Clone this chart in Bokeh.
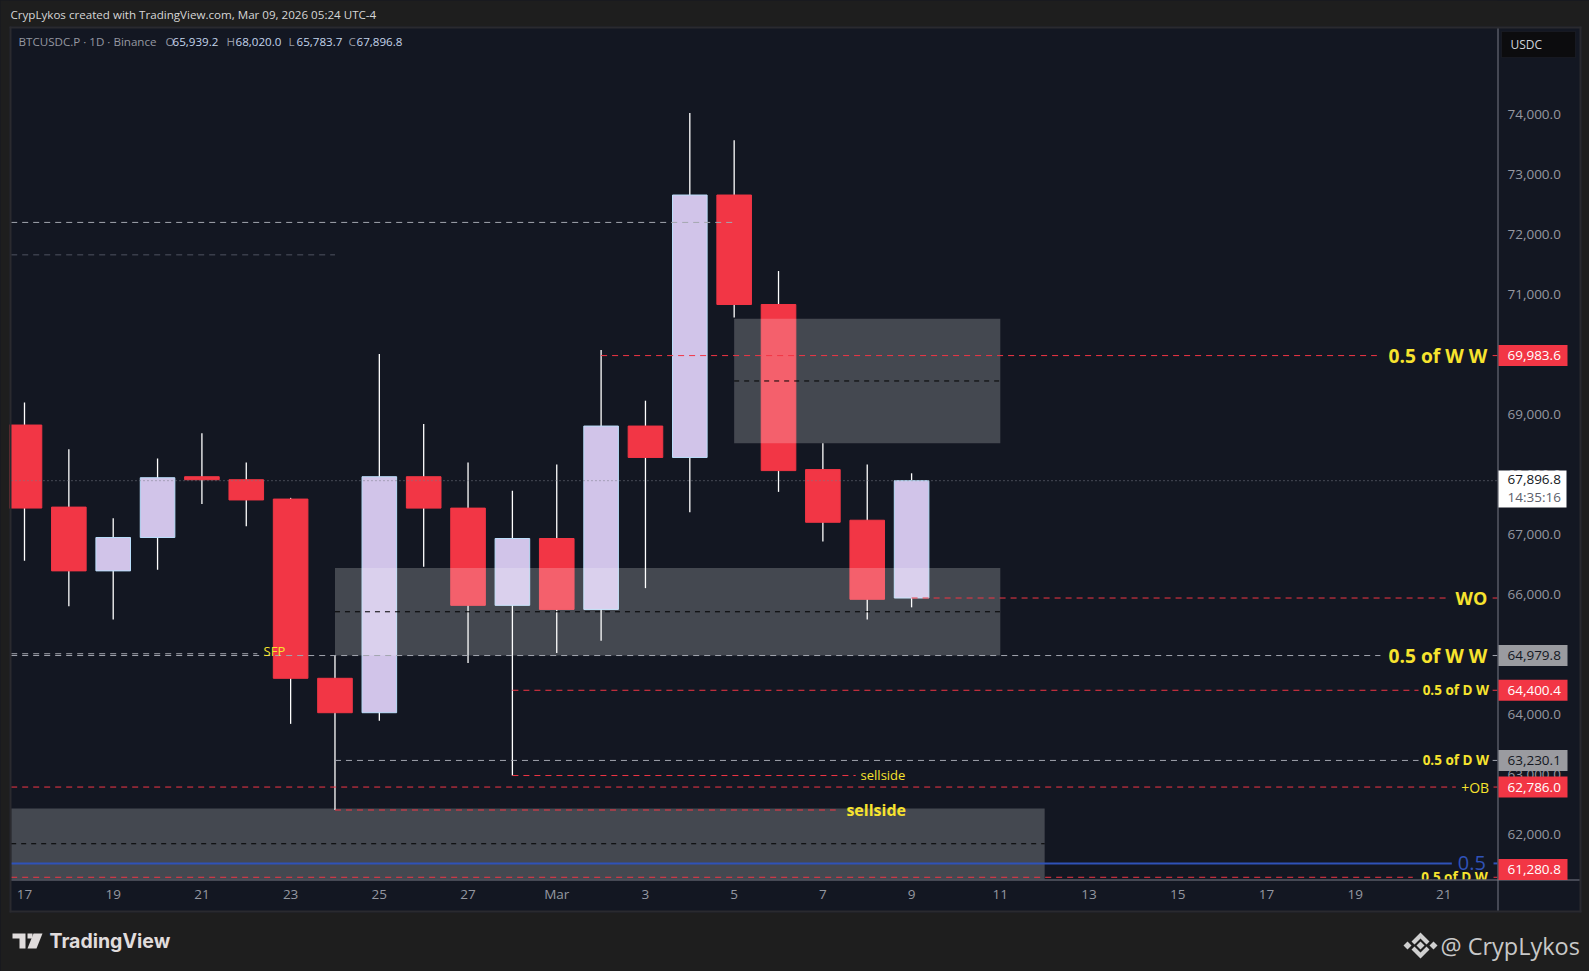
from bokeh.plotting import figure
from bokeh.models import (Range1d, FixedTicker, Label, BoxAnnotation, PolyAnnotation,
                          GlobalInlineStyleSheet)
from bokeh.core.properties import value
from bokeh.embed import file_html
from bokeh.resources import INLINE

# ---------- data ----------
days   = [17, 18, 19, 20, 21, 22, 23, 24, 25, 26, 27, 28, 29, 30, 31, 32, 33, 34, 35, 36, 37]
opens  = [68825, 67456, 66392, 66949, 67963, 67913, 67590, 64600, 64026, 67963, 67439, 65817,
          66932, 65749, 68808, 68284, 72662, 70836, 68082, 67237, 65939.2]
highs  = [69200, 68420, 67270, 68268, 68690, 68200, 67610, 64980, 70010, 68842, 68200, 67727,
          68166, 70076, 69231, 74030, 73574, 71394, 68521, 68166, 68020.0]
lows   = [66560, 65800, 65580, 66409, 67507, 67135, 63840, 62403, 63890, 66459, 64854, 62978,
          65023, 65226, 66104, 67372, 70617, 67710, 66882, 65580, 65783.7]
closes = [67440, 66392, 66949, 67946, 67913, 67575, 64600, 64026, 67963, 67439, 65817, 66932,
          65749, 68808, 68284, 72662, 70836, 68065, 67203, 65918, 67896.8]

date_ticks  = [17, 19, 21, 23, 25, 27, 29, 31, 33, 35, 37, 39, 41, 43, 45, 47, 49]
date_labels = ["17", "19", "21", "23", "25", "27", "Mar", "3", "5", "7", "9", "11", "13", "15", "17", "19", "21"]
price_ticks = [62000, 63000, 64000, 66000, 67000, 68000, 69000, 71000, 72000, 73000, 74000]

# zones: left day, right day, top price, bottom price, mid price
zone_left  = [33, 24, 16.7]
zone_right = [39, 39, 40]
zone_top   = [70600, 66442, 62430]
zone_bot   = [68521, 64979.8, 61244]
zone_mid   = [69560, 65710, 61840]

# levels: price, start day, end day
grey_y  = [72205, 65010, 64979.8, 64979.8, 63230.1, 63230.1]
grey_x0 = [16.7, 16.7, 16.7, 50.1, 24, 50.1]
grey_x1 = [33, 22.25, 47.57, 50.21, 48.43, 50.21]
dim_y   = [71664]
dim_x0  = [16.7]
dim_x1  = [24]
red_y   = [69983.6, 69983.6, 65939.2, 65939.2, 64400.4, 64400.4, 62978, 62786, 62786, 62403, 61280.8, 61280.8]
red_x0  = [30, 50.1, 37, 50.1, 28, 50.1, 28, 16.7, 50.12, 24, 16.7, 50.12]
red_x1  = [47.49, 50.21, 49.06, 50.21, 48.43, 50.21, 35.74, 49.27, 50.21, 35.29, 48.3, 50.21]
blue_y  = [61512, 61512]
blue_x0 = [16.7, 50.12]
blue_x1 = [49.18, 50.21]
last_price = 67896.8

# tag text, centre price of the tag, fill, text colour
tags = [("69,983.6", 69983.6, "#f23645", "#ffffff"),
        ("64,979.8", 64979.8, "#9a9ba0", "#131722"),
        ("64,400.4", 64400.4, "#f23645", "#ffffff"),
        ("63,230.1", 63230.1, "#9a9ba0", "#131722"),
        ("62,786.0", 62786.0, "#f23645", "#ffffff"),
        ("61,280.8", 61409.0, "#f23645", "#ffffff")]
TAG_HALF = 175

YEL = "#f7e32e"
FONT = "Open Sans"
W, H = 1589, 971
PANE = "#131722"
PAGE = "#1e1e1e"
X0, X1 = 16.707, 50.21     # visible chart span (days)
Y0, Y1 = 61244, 75440      # visible chart span (price)
XA, XB = 16.459, 52.284    # whole canvas span
YA, YB = 59709, 75907

p = figure(width=W, height=H, output_backend="svg", toolbar_location=None,
           x_range=Range1d(XA, XB), y_range=Range1d(YA, YB),
           x_axis_location="below", y_axis_location="right",
           min_border=0, frame_width=W, frame_height=H,
           background_fill_color=PANE, border_fill_color=PANE, outline_line_color=None)
p.grid.visible = False
p.stylesheets = [GlobalInlineStyleSheet(css="html,body{margin:0;padding:0;background:#1e1e1e;overflow:hidden}")]

def box(l, t, r, b, color, line=None):
    bx = BoxAnnotation(left=l, right=r, top=t, bottom=b, left_units="canvas", right_units="canvas",
                       top_units="canvas", bottom_units="canvas", fill_color=color, fill_alpha=1,
                       line_color=line, editable=False)
    p.add_layout(bx)

def lab(x, y, text, size, color, align="left", font=FONT, style="normal", **kw):
    l = Label(x=x, y=y, x_units="canvas", y_units="canvas", text=text, text_font=font,
              text_font_size=f"{size}px", text_color=color, text_align=align,
              text_baseline="middle", text_font_style=style, **kw)
    p.add_layout(l)

def poly(xs, ys, color):
    p.add_layout(PolyAnnotation(xs=xs, ys=ys, xs_units="canvas", ys_units="canvas", fill_color=color,
                                fill_alpha=1, line_color=None, editable=False))

# candles
up_idx = [i for i in range(len(days)) if closes[i] >= opens[i]]
dn_idx = [i for i in range(len(days)) if closes[i] < opens[i]]
p.segment(x0=days, x1=days, y0=lows, y1=highs, color="#ffffff", line_width=1.3)
p.vbar(x=[days[i] for i in dn_idx], width=0.78, top=[opens[i] for i in dn_idx], bottom=[closes[i] for i in dn_idx],
       fill_color="#f23645", line_color="#f23645")
p.vbar(x=[days[i] for i in up_idx], width=0.78, top=[closes[i] for i in up_idx], bottom=[opens[i] for i in up_idx],
       fill_color="#d1c4e9", line_color="#bbdefb")

# zones
p.quad(left=zone_left, right=zone_right, top=zone_top, bottom=zone_bot, fill_color="#ffffff",
       fill_alpha=0.21, line_color=None)
p.segment(x0=zone_left, x1=zone_right, y0=zone_mid, y1=zone_mid, color="#000000", line_width=1, line_dash="5 5")

# levels
p.segment(x0=grey_x0, x1=grey_x1, y0=grey_y, y1=grey_y, color="#a3a6af", line_width=1, line_dash="6 5")
p.segment(x0=dim_x0, x1=dim_x1, y0=dim_y, y1=dim_y, color="#4f5360", line_width=1, line_dash="6 5")
p.segment(x0=red_x0, x1=red_x1, y0=red_y, y1=red_y, color="#f23645", line_width=1, line_dash="6 5")
p.segment(x0=blue_x0, x1=blue_x1, y0=blue_y, y1=blue_y, color="#2f52b8", line_width=2)
p.line(x=[X0, X1], y=[last_price, last_price], color="#787b86", line_width=1, line_dash="1 3")

# level labels
def txt(x, y, t, size, color=YEL, align="right", style="normal"):
    p.text(x=[x], y=[y], text=[t], text_font=value(FONT), text_font_size=f"{size}px", text_color=color,
           text_align=align, text_baseline="middle", text_font_style=style)

txt(49.98, 69983.6, "0.5 of W W", 19.2, style="bold")
txt(49.98, 64979.8, "0.5 of W W", 19.2, style="bold")
txt(49.98, 65939.2, "WO", 18, style="bold")
txt(50.02, 64400.4, "0.5 of D W", 13.5, style="bold")
txt(50.02, 63230.1, "0.5 of D W", 13.5, style="bold")
txt(50.02, 62786.0, "+OB", 14)
txt(49.99, 61280.8, "0.5 of D W", 13.5, style="bold")
txt(49.95, 61512, "0.5", 20, color="#2f52b8")
txt(35.85, 62990, "sellside", 13, align="left")
txt(35.53, 62403, "sellside", 16, align="left", style="bold")
txt(22.39, 65060, "SFP", 13, align="left")

# scale panes, drawn over the chart marks and under the axes
p.quad(left=[X1, XA], right=[XB, XB], top=[YB, Y0], bottom=[YA, YA], fill_color=PANE, line_color=None)

# axes, pinned to the edges of the chart area
p.yaxis.ticker = FixedTicker(ticks=price_ticks)
p.yaxis.major_label_overrides = {t: f"{t:,.1f}" for t in price_ticks}
p.xaxis.ticker = FixedTicker(ticks=date_ticks)
p.xaxis.major_label_overrides = dict(zip(date_ticks, date_labels))
for ax in (p.xaxis, p.yaxis):
    ax.axis_line_color = None
    ax.major_tick_line_color = None
    ax.minor_tick_line_color = None
    ax.major_label_text_color = "#9598a1"
    ax.major_label_text_font = FONT
ax_y, ax_x = p.yaxis[0], p.xaxis[0]
ax_y.fixed_location = X1
ax_x.fixed_location = Y0
ax_y.major_label_text_font_size = "13.5px"
ax_y.major_label_standoff = 4
ax_x.major_label_text_font_size = "13.5px"
ax_x.major_label_standoff = 0

# page chrome around the chart pane
box(0, 0, W, 26, PAGE)
box(0, 912, W, H, PAGE)
box(0, 0, 9, H, PAGE)
box(1581, 0, W, H, PAGE)
box(9, 26, 1581, 28, "#2a2a2f")
box(9, 910, 1581, 912, "#2a2a2f")
box(9, 26, 11, 912, "#2a2a2f")
box(1579, 26, 1581, 912, "#2a2a2f")

# axis lines
box(1497, 28, 1498, 910, "#787b86")
box(11, 879, 1579, 880, "#787b86")

# price tags
for t, y, bg, fg in tags:
    p.add_layout(BoxAnnotation(left=1498, right=1567, left_units="canvas", right_units="canvas",
                               top=y + TAG_HALF, bottom=y - TAG_HALF, fill_color=bg, fill_alpha=1,
                               line_color=None, editable=False))
    p.add_layout(Label(x=1507, x_units="canvas", y=y, y_units="data", text=t, text_font=FONT,
                       text_font_size="13.5px", text_color=fg, text_align="left", text_baseline="middle"))

# last-price tag
box(1498, 470, 1566, 507, "#ffffff")
lab(1507, 479, "67,896.8", 13.5, "#131722")
lab(1507, 496, "14:35:16", 13.5, "#5d606b")

# USDC tag
box(1501, 31, 1575, 57, "#0c0c0e", line="#2a2e39")
lab(1510, 44, "USDC", 12, "#d1d4dc")

# header
lab(10, 14, "CrypLykos created with TradingView.com, Mar 09, 2026 05:24 UTC-4", 11.6, "#d6d6d6")
lab(18, 41, "BTCUSDC.P · 1D · Binance", 11.6, "#9598a1")
for x, t, c in [(165, "O", "#9598a1"), (172, "65,939.2", "#c3d5ec"), (226, "H", "#9598a1"), (235, "68,020.0", "#c3d5ec"),
                (288, "L", "#9598a1"), (296, "65,783.7", "#c3d5ec"), (348, "C", "#9598a1"), (356, "67,896.8", "#c3d5ec")]:
    lab(x, 41, t, 11.6, c)

# TradingView mark
MARK = "#e0dcdc"
poly([12, 25, 25, 19, 19, 12], [933, 933, 948, 948, 938, 938], MARK)
poly([27, 32, 32, 27], [933, 933, 938, 938], MARK)
poly([33, 42, 36, 27], [933, 933, 948, 948], MARK)
lab(49, 940, "TradingView", 19.5, MARK, font="Inter", style="bold")

# Binance mark and handle
GR = "#cfcfcf"
poly([1420, 1429, 1426, 1420, 1414, 1411], [932, 941, 944, 938, 944, 941], GR)
poly([1420, 1429, 1426, 1420, 1414, 1411], [958, 949, 946, 952, 946, 949], GR)
poly([1407, 1411, 1407, 1403], [941, 945, 949, 945], GR)
poly([1433, 1437, 1433, 1429], [941, 945, 949, 945], GR)
poly([1420, 1424, 1420, 1416], [941, 945, 949, 945], GR)
lab(1440, 945, "@ CrypLykos", 23.5, "#c8c8c8")

open("out.html", "w").write(file_html(p, INLINE))
